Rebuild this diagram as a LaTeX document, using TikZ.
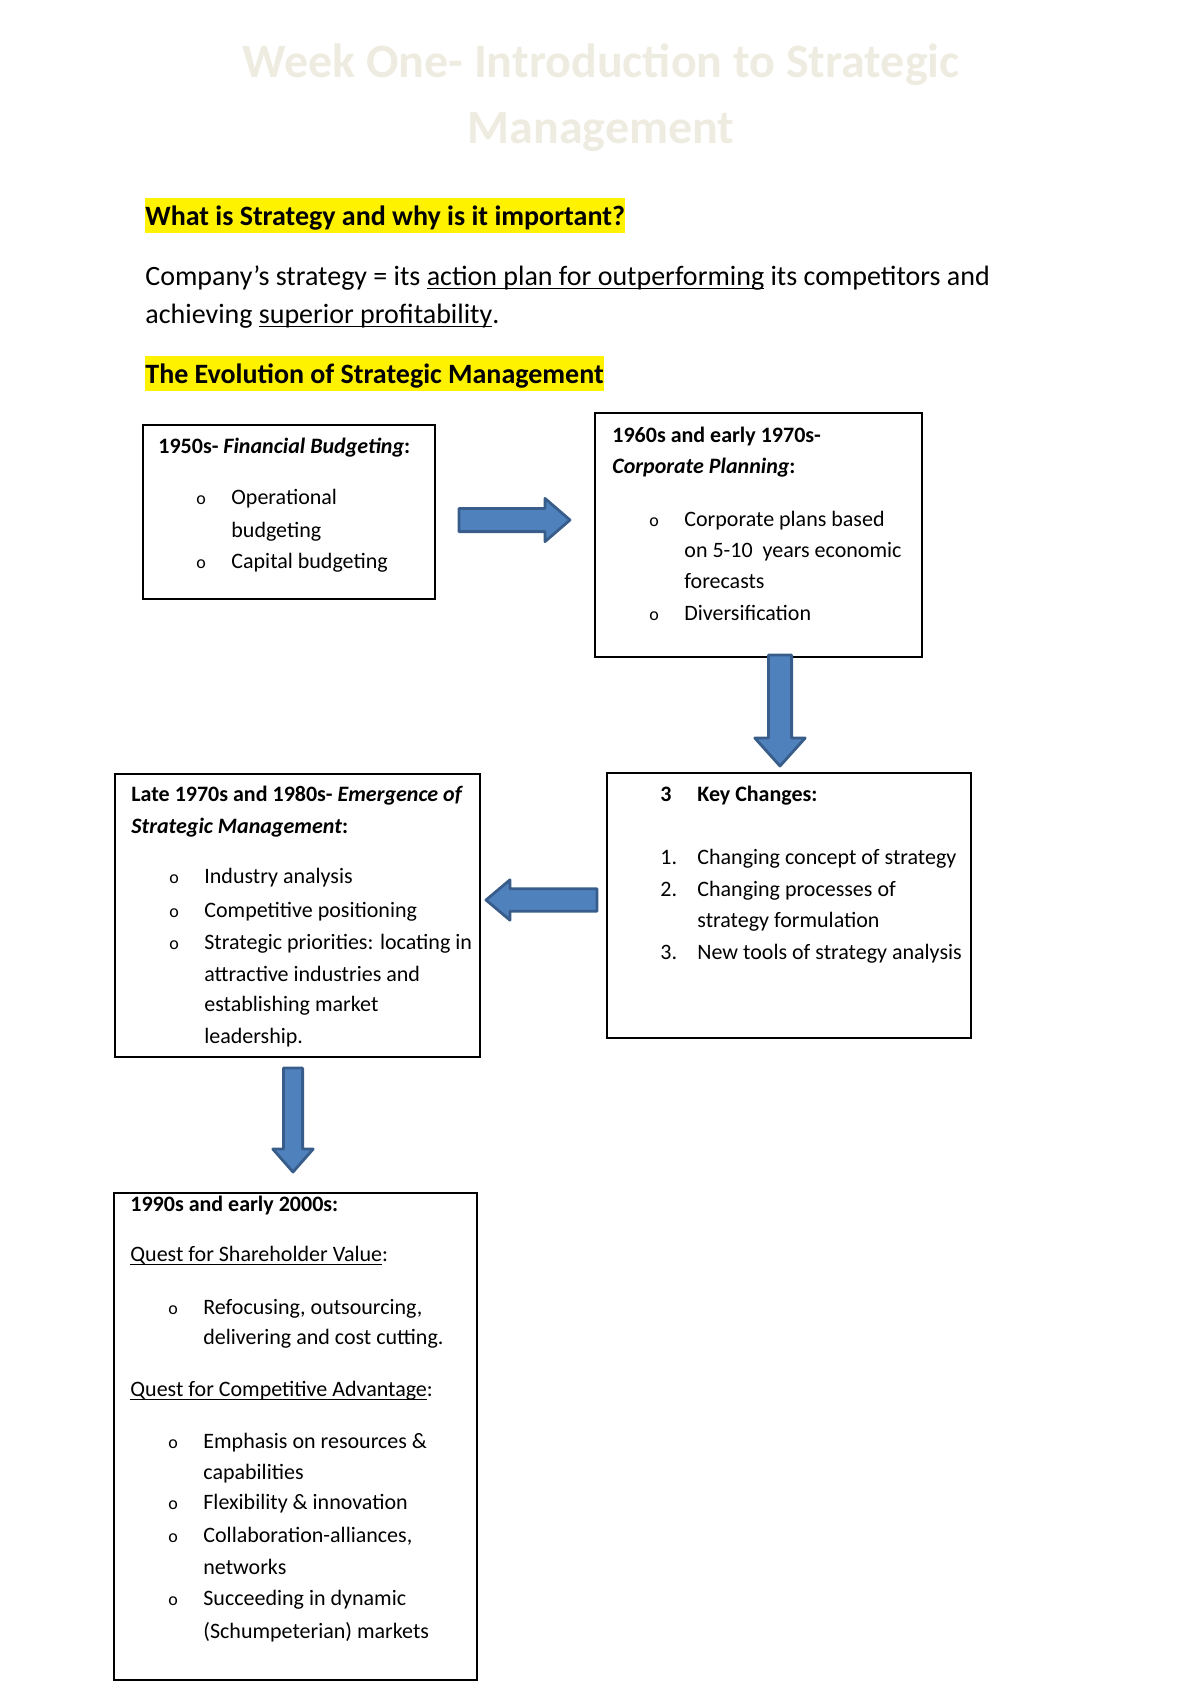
\documentclass[tikz,border=0pt]{standalone}
\usepackage{fontspec}
\setmainfont{Carlito}
\usetikzlibrary{calc,fit}

\definecolor{titletan}{HTML}{EEECE1}
\definecolor{arrowfill}{HTML}{4F81BD}
\definecolor{arrowline}{HTML}{385D8A}

% label hanging left of the text start (bullet or number)
\newcommand{\lbl}[2]{\llap{\makebox[#1][l]{#2}}}
\newcommand{\bul}{\lbl{17.5pt}{\fontsize{9}{9}\selectfont o}}
% underline close to the baseline
\newcommand{\undl}[1]{\sbox0{#1}\rlap{\rule[-2.2pt]{\wd0}{0.7pt}}\usebox0}

% block arrow: tail, tip, shaft half width, head half width, head length
\newcommand{\blockarrow}[5]{%
  \coordinate (#2-base) at ($(#2)!#5!(#1)$);
  \draw[blkarrow] ($(#1)!#3!90:(#2)$) -- ($(#2-base)!#3!90:(#2)$)
    -- ($(#2-base)!#4!90:(#2)$) -- (#2) -- ($(#2-base)!#4!-90:(#2)$)
    -- ($(#2-base)!#3!-90:(#2)$) -- ($(#1)!#3!-90:(#2)$) -- cycle;}

\begin{document}
\begin{tikzpicture}[x=0.5pt, y=-0.5pt,
    box/.style={draw, line width=1.1pt, inner sep=0pt},
    txt/.style={anchor=base west, inner sep=0pt, font=\fontsize{11}{13}\selectfont},
    body/.style={anchor=base west, inner sep=0pt, font=\fontsize{14}{17}\selectfont},
    hilite/.style={body, fill=yellow, text height=13.5pt, text depth=4.2pt, font=\fontsize{14}{17}\selectfont\bfseries},
    title/.style={anchor=base, inner sep=0pt, text=titletan, font=\fontsize{24}{29}\selectfont\bfseries},
    blkarrow/.style={fill=arrowfill, draw=arrowline, line width=1.4pt, line join=round}
]
\useasboundingbox (0,0) rectangle (1200,1698);

% Title
\node[title] (title1) at (601,77) {Week One- Introduction to Strategic};
\node[title] (title2) at (601,143) {Management};

% Headings and text
\node[hilite] (whatis) at (145,225) {What is Strategy and why is it important?};
\node[body] (def1) at (145,285) {Company’s strategy = its \undl{action plan for outperforming} its competitors and};
\node[body] (def2) at (145,323) {achieving \undl{superior profitability}.};
\node[hilite] (evol) at (145,383) {The Evolution of Strategic Management};

% Boxes
\node[box, fit={(143,425) (435,599)}] (fin) {};
\node[box, fit={(595,413) (922,657)}] (corp) {};
\node[box, fit={(607,773) (971,1038)}] (keych) {};
\node[box, fit={(115,774) (480,1057)}] (emerg) {};
\node[box, fit={(114,1193) (477,1680)}] (quest) {};

% 1950s
\foreach \x/\y/\t [count=\i] in {
    158/453/{\textbf{1950s- \textit{Financial Budgeting}:}},
    231/504/{\bul Operational},
    231/537/{budgeting},
    231/568/{\bul Capital budgeting}}
  \node[txt] (fin\i) at (\x,\y) {\t};

% 1960s
\foreach \x/\y/\t [count=\i] in {
    612/442/{\textbf{1960s and early 1970s-}},
    612/473/{\textbf{\textit{Corporate Planning}:}},
    684/526/{\bul Corporate plans based},
    684/557/{on 5-10 \ years economic},
    684/588/{forecasts},
    684/620/{\bul Diversification}}
  \node[txt] (corp\i) at (\x,\y) {\t};

% key changes
\foreach \x/\y/\t [count=\i] in {
    697/801/{\lbl{18.5pt}{\textbf{3}}\textbf{Key Changes:}},
    697/864/{\lbl{18.5pt}{1.}Changing concept of strategy},
    697/896/{\lbl{18.5pt}{2.}Changing processes of},
    697/927/{strategy formulation},
    697/959/{\lbl{18.5pt}{3.}New tools of strategy analysis}}
  \node[txt] (keych\i) at (\x,\y) {\t};

% late 1970s and 1980s
\foreach \x/\y/\t [count=\i] in {
    131/801/{\textbf{Late 1970s and 1980s- \textit{Emergence of}}},
    131/833/{\textbf{\textit{Strategic Management}:}},
    204/883/{\bul Industry analysis},
    204/917/{\bul Competitive positioning},
    204/949/{\bul Strategic priorities: locating in},
    204/981/{attractive industries and},
    204/1011/{establishing market},
    204/1043/{leadership.}}
  \node[txt] (emerg\i) at (\x,\y) {\t};

% 1990s
\foreach \x/\y/\t [count=\i] in {
    130/1211/{\textbf{1990s and early 2000s:}},
    130/1261/{\undl{Quest for Shareholder Value}:},
    203/1314/{\bul Refocusing, outsourcing,},
    203/1344/{delivering and cost cutting.},
    130/1396/{\undl{Quest for Competitive Advantage}:},
    203/1448/{\bul Emphasis on resources \&},
    203/1479/{capabilities},
    203/1509/{\bul Flexibility \& innovation},
    203/1542/{\bul Collaboration-alliances,},
    203/1574/{networks},
    203/1605/{\bul Succeeding in dynamic},
    203/1638/{(Schumpeterian) markets}}
  \node[txt] (quest\i) at (\x,\y) {\t};

% Arrows
\coordinate (toCorpTail) at (459,520);
\coordinate (toCorpTip) at (570,520);
\coordinate (toKeyTail) at (780,655);
\coordinate (toKeyTip) at (780,766);
\coordinate (toEmergTail) at (597,900);
\coordinate (toEmergTip) at (486,900);
\coordinate (toQuestTail) at (293,1068);
\coordinate (toQuestTip) at (293,1172);

\blockarrow{toCorpTail}{toCorpTip}{5.8pt}{10.8pt}{12.5pt}
\blockarrow{toKeyTail}{toKeyTip}{5.8pt}{12.6pt}{14pt}
\blockarrow{toEmergTail}{toEmergTip}{5.6pt}{10.1pt}{12pt}
\blockarrow{toQuestTail}{toQuestTip}{4.8pt}{10.1pt}{11.5pt}
\end{tikzpicture}
\end{document}
